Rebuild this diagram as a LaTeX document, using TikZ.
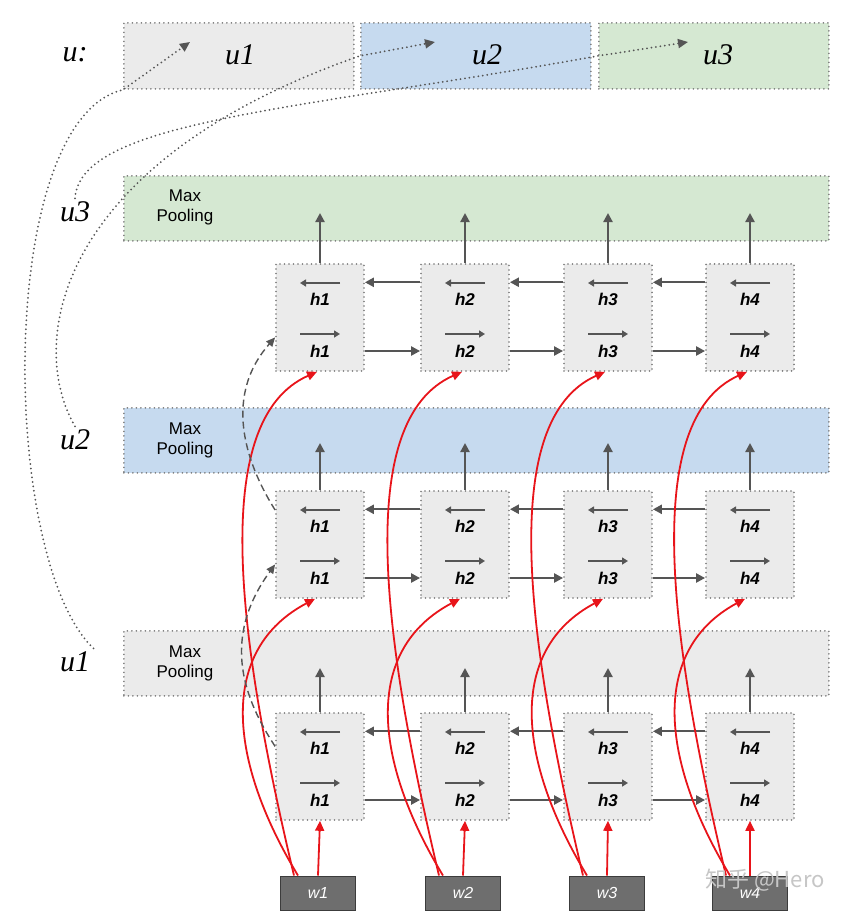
\documentclass[tikz,border=0pt]{standalone}
\usepackage{fontspec}
\setmainfont{Liberation Serif}
\setsansfont{Liberation Sans}
\newfontfamily\cjkf{Noto Sans CJK SC}
\usetikzlibrary{arrows.meta}
\definecolor{gfill}{HTML}{EBEBEB}
\definecolor{bfill}{HTML}{C6DAEF}
\definecolor{grfill}{HTML}{D5E8D2}
\definecolor{dk}{HTML}{555555}
\definecolor{rd}{HTML}{E8141A}
\tikzset{
 dots/.style={line width=1.8pt,line cap=round,dash pattern=on 0pt off 4.5pt},
 box/.style={draw=dk!80,dots,inner sep=0pt,anchor=north west},
 hbox/.style={box,fill=gfill,minimum width=88pt,minimum height=107pt,anchor=north},
 pool/.style={box,minimum width=705pt,minimum height=65pt},
 ubox/.style={box,minimum width=230pt,minimum height=66pt},
 lab/.style={font=\fontsize{30}{30}\selectfont\itshape},
 hl/.style={font=\sffamily\bfseries\itshape\fontsize{17}{17}\selectfont},
 mp/.style={font=\sffamily\fontsize{17}{20}\selectfont,align=center},
 ga/.style={draw=dk,line width=2.2pt,-{Triangle[length=9pt,width=9pt]}},
 sa/.style={draw=dk,line width=2pt,-{Triangle[length=6pt,width=7pt]}},
 ra/.style={draw=rd,line width=1.8pt,-{Triangle[length=10pt,width=9pt]}},
 da/.style={draw=dk,line width=1.4pt,dashed,dash pattern=on 7pt off 4pt,-{Triangle[length=9pt,width=8pt]}},
 oa/.style={draw=dk,dots,line width=2pt,-{Triangle[length=10pt,width=9pt]}},
 wbox/.style={draw=dk!70!black,fill=dk!85,line width=1pt,minimum width=75pt,minimum height=34pt,inner sep=0pt,text=white,font=\sffamily\itshape\fontsize{16}{16}\selectfont}
}
\begin{document}
\begin{tikzpicture}[x=1pt,y=-1pt]
\useasboundingbox[fill=white] (0,0) rectangle (855,919);
% u row
\node[ubox,fill=gfill] (U1) at (123,22) {};
\node[ubox,fill=bfill] (U2) at (360,22) {};
\node[ubox,fill=grfill] (U3) at (598,22) {};
\node[lab] (ulab) at (75,55) {u:};
\node[lab] (tu1) at (240,55) {u1};
\node[lab] (tu2) at (487,55) {u2};
\node[lab] (tu3) at (718,55) {u3};
% pooling layers
\node[pool,fill=grfill] (P3) at (123,175) {};
\node[pool,fill=bfill] (P2) at (123,407) {};
\node[pool,fill=gfill] (P1) at (123,630) {};
\node[mp] (m3) at (185,207) {Max\\Pooling};
\node[mp] (m2) at (185,440) {Max\\Pooling};
\node[mp] (m1) at (185,663) {Max\\Pooling};
\node[lab] (l3) at (75,212) {u3};
\node[lab] (l2) at (75,440) {u2};
\node[lab] (l1) at (75,662) {u1};
% h boxes
\foreach \L/\y/\py in {3/263/213,2/490/443,1/712/668}{
 \foreach \i/\x in {1/320,2/465,3/608,4/750}{
  \node[hbox] (B\L\i) at (\x,\y) {};
  \node[hl] (hb\L\i) at (\x,\y+36) {h\i};
  \node[hl] (hf\L\i) at (\x,\y+88) {h\i};
  \draw[sa] (\x+20,\y+20) -- (\x-20,\y+20);
  \draw[sa] (\x-20,\y+71) -- (\x+20,\y+71);
  \coordinate (pt\L\i) at (\x,\py);
  \draw[ga] (B\L\i.north) -- (pt\L\i);
 }
 \foreach \a/\b in {1/2,2/3,3/4}{
  \draw[ga] (B\L\b.west|-hb\L\b.north) ++(0,-7) coordinate (tmp) -- (B\L\a.east|-tmp);
  \draw[ga] (B\L\a.east|-hf\L\a) -- (B\L\b.west|-hf\L\b);
 }
}
% w boxes
\foreach \i/\x in {1/318,2/463,3/607,4/750}{
 \node[wbox] (W\i) at (\x,893) {w\i};
 \draw[ra] (W\i.north) -- (B1\i.south);
 \draw[ra] ([xshift=-20pt]W\i.north) .. controls (\x-90,760) and (\x-100,650) .. ([xshift=-5pt]B2\i.south);
 \draw[ra] ([xshift=-24pt]W\i.north) .. controls (\x-80,640) and (\x-110,420) .. ([xshift=-3pt]B3\i.south);
}
% dashed skip connections
\draw[da] ([yshift=20pt]B11.west) .. controls (245,700) and (220,640) .. ([yshift=-20pt]B21.west);
\draw[da] ([yshift=-20pt]B21.north west) .. controls (250,470) and (220,400) .. ([yshift=-20pt]B31.west);
% dotted links to u row
\draw[oa] (l1.north east) .. controls (0,560) and (-5,120) .. (U1.south west) -- (190,42);
\draw[oa] (l2.north) .. controls (25,340) and (60,160) .. (U2.west) -- (435,42);
\draw[oa] (l3.north) .. controls (80,120) and (300,110) .. (U3.west) -- (688,42);
% watermark
\node[font=\cjkf\fontsize{22}{22}\selectfont,text=gray!45] (wm) at (765,880) {知乎 @Hero};
\end{tikzpicture}
\end{document}
